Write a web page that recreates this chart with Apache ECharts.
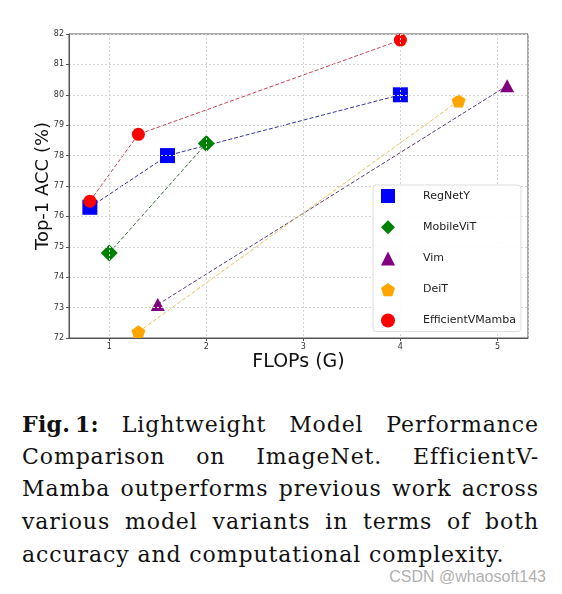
<!DOCTYPE html>
<html>
<head>
<meta charset="utf-8">
<script src="https://cdn.jsdelivr.net/npm/echarts@6/dist/echarts.min.js"></script>
<style>
html,body{margin:0;padding:0;background:#fff;width:562px;height:594px;overflow:hidden;}
#chart{position:absolute;left:0;top:0;width:562px;height:400px;}
#caption{position:absolute;left:22px;top:408px;width:517px;font-family:"DejaVu Serif",serif;font-size:22px;letter-spacing:0.9px;color:#111;}
#caption div{height:32.7px;line-height:32.7px;text-align:justify;text-align-last:justify;white-space:nowrap;}
#caption div.last{text-align-last:left;}
#wm{position:absolute;right:16px;top:568px;font-family:"Liberation Sans",sans-serif;font-size:16px;color:#b0b0b0;}
</style>
</head>
<body>
<div id="chart"></div>
<div id="caption">
<div><b style="letter-spacing:0.3px">Fig.&#8201;1:</b> Lightweight Model Performance</div>
<div>Comparison on ImageNet. EfficientV-</div>
<div>Mamba outperforms previous work across</div>
<div>various model variants in terms of both</div>
<div class="last">accuracy and computational complexity.</div>
</div>
<div id="wm">CSDN @whaosoft143</div>
<script>
// ---- data ----
const seriesNames = ['RegNetY', 'MobileViT', 'Vim', 'DeiT', 'EfficientVMamba'];
const regnetFlops = [0.8, 1.6, 4.0];
const regnetAcc   = [76.3, 78.0, 80.0];
const mobilevitFlops = [1.0, 2.0];
const mobilevitAcc   = [74.8, 78.4];
const vimFlops = [1.5, 5.1];
const vimAcc   = [73.1, 80.3];
const deitFlops = [1.3, 4.6];
const deitAcc   = [72.2, 79.8];
const evmFlops = [0.8, 1.3, 4.0];
const evmAcc   = [76.5, 78.7, 81.8];
const xRange = [0.585, 5.315];
const yRange = [72, 82];

// ---- styles ----
const pentagon = 'path://M0,-1 L0.951,-0.309 L0.588,0.809 L-0.588,0.809 L-0.951,-0.309 Z';
const markerColors = ['#0000ff', '#008000', '#800080', '#ffa500', '#ff0000'];
const lineColors = ['#35359a', '#3d6e3d', '#5b3a80', '#e8c45e', '#cc4455'];
const symbols = ['rect', 'diamond', 'triangle', pentagon, 'circle'];
const symbolSizes = [[15, 15], [17, 17], [14, 13], [14, 14], [13, 13]];
const xs = [regnetFlops, mobilevitFlops, vimFlops, deitFlops, evmFlops];
const ys = [regnetAcc, mobilevitAcc, vimAcc, deitAcc, evmAcc];

const pairs = (a, b) => a.map((v, i) => [v, b[i]]);

const series = seriesNames.map((name, i) => ({
  name: name,
  type: 'line',
  data: pairs(xs[i], ys[i]),
  symbol: symbols[i],
  symbolSize: symbolSizes[i],
  symbolKeepAspect: true,
  showAllSymbol: true,
  z: 2,
  lineStyle: { color: lineColors[i], width: 1, type: [4, 2] },
  itemStyle: { color: markerColors[i], opacity: 1 },
  emphasis: { disabled: true },
  animation: false
}));

const chart = echarts.init(document.getElementById('chart'), null, { renderer: 'canvas' });
chart.setOption({
  animation: false,
  backgroundColor: '#fff',
  grid: { left: 69, top: 34, width: 459, height: 304, show: true, borderColor: '#555', borderWidth: 1, backgroundColor: 'transparent' },
  legend: {
    orient: 'vertical',
    left: 373,
    top: 185,
    padding: [4, 5, 4, 8],
    itemWidth: 14,
    itemHeight: 14,
    itemGap: 17.3,
    backgroundColor: 'rgba(255,255,255,0.9)',
    borderColor: '#dddddd',
    borderWidth: 1,
    borderRadius: 3,
    selectedMode: false,
    textStyle: { fontFamily: 'DejaVu Sans', fontSize: 11, color: '#222', padding: [0, 0, 0, 23] },
    data: seriesNames.map((n, i) => ({ name: n, icon: symbols[i], itemStyle: { color: markerColors[i] } }))
  },
  xAxis: {
    type: 'value',
    min: xRange[0],
    max: xRange[1],
    z: 3,
    name: 'FLOPs (G)',
    nameLocation: 'middle',
    nameGap: 15,
    nameMoveOverlap: false,
    nameTextStyle: { fontFamily: 'DejaVu Sans', fontSize: 19, color: '#111' },
    axisLine: { show: true, onZero: false, lineStyle: { color: '#555', width: 1 } },
    axisTick: { show: true, length: 3, lineStyle: { color: '#555' } },
    axisLabel: { showMinLabel: false, showMaxLabel: false, margin: 5, fontFamily: 'DejaVu Sans', fontSize: 8, color: '#333' },
    splitLine: { show: true, lineStyle: { color: '#d4d4d4', type: [2, 2], width: 1 } }
  },
  yAxis: {
    type: 'value',
    min: yRange[0],
    max: yRange[1],
    interval: 1,
    z: 3,
    name: 'Top-1 ACC (%)',
    nameLocation: 'middle',
    nameGap: 17,
    nameMoveOverlap: false,
    nameTextStyle: { fontFamily: 'DejaVu Sans', fontSize: 18, color: '#111' },
    axisLine: { show: true, lineStyle: { color: '#555', width: 1 } },
    axisTick: { show: true, length: 3, lineStyle: { color: '#555' } },
    axisLabel: { margin: 5, fontFamily: 'DejaVu Sans', fontSize: 8, color: '#333' },
    splitLine: { show: true, lineStyle: { color: '#d4d4d4', type: [2, 2], width: 1 } }
  },
  series: series
});
</script>
</body>
</html>
